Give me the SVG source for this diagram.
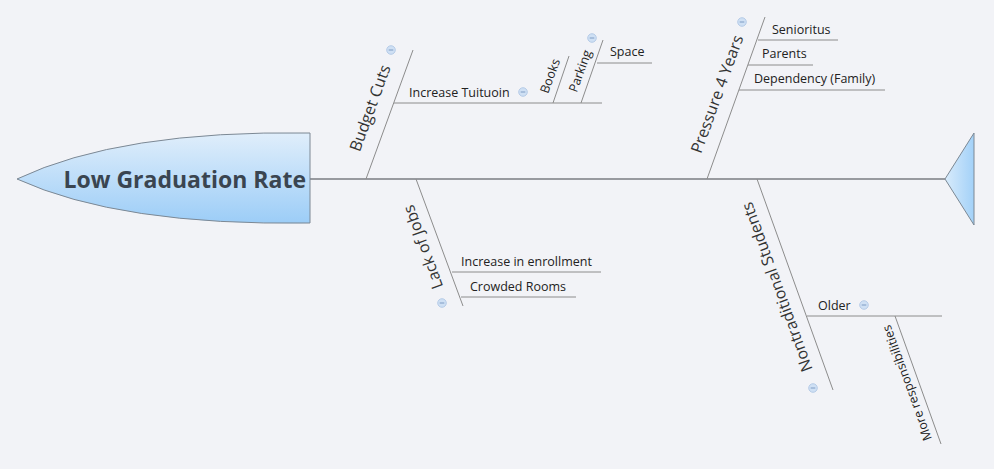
<svg xmlns="http://www.w3.org/2000/svg" width="994" height="469" viewBox="0 0 994 469">
<defs>
<linearGradient id="headGrad" x1="0" y1="0" x2="0" y2="1">
<stop offset="0" stop-color="#e0eefb"/>
<stop offset="1" stop-color="#9ccdf7"/>
</linearGradient>
<linearGradient id="tailGrad" x1="0" y1="0" x2="1" y2="0">
<stop offset="0" stop-color="#d8ebfb"/>
<stop offset="1" stop-color="#a3d1f8"/>
</linearGradient>
<g id="minus">
<circle cx="0" cy="0" r="4.3" fill="#cfe0f4" stroke="#a9c3e2" stroke-width="0.8"/>
<line x1="-2.3" y1="0" x2="2.3" y2="0" stroke="#7e9cc4" stroke-width="1"/>
</g>
</defs>
<style>
.bone{stroke:#8c8c8c;stroke-width:1;fill:none}
.spine{stroke:#7a7d82;stroke-width:1.3;fill:none}
.big{font-family:"Open Sans","Liberation Sans",sans-serif;font-size:16px;fill:#333}
.sm{font-family:"Open Sans","Liberation Sans",sans-serif;font-size:12.5px;fill:#222}
.title{font-family:"Open Sans","Liberation Sans",sans-serif;font-size:23px;font-weight:bold;fill:#3a4550}
</style>
<rect width="994" height="469" fill="#f2f3f7"/>
<g id="connectors">
<line class="spine" x1="310" y1="179" x2="945" y2="179"/>
<line class="bone" x1="366" y1="179" x2="413" y2="50"/>
<line class="bone" x1="394" y1="103" x2="602" y2="103"/>
<line class="bone" x1="553" y1="103" x2="569" y2="56"/>
<line class="bone" x1="581" y1="103" x2="603" y2="40"/>
<line class="bone" x1="597" y1="63" x2="652" y2="63"/>
<line class="bone" x1="707" y1="179" x2="765" y2="17"/>
<line class="bone" x1="758" y1="40" x2="838" y2="40"/>
<line class="bone" x1="748" y1="65" x2="813" y2="65"/>
<line class="bone" x1="739" y1="90" x2="885" y2="90"/>
<line class="bone" x1="416" y1="179" x2="463" y2="306"/>
<line class="bone" x1="452" y1="272" x2="601" y2="272"/>
<line class="bone" x1="461" y1="297" x2="576" y2="297"/>
<line class="bone" x1="757" y1="179" x2="833" y2="390"/>
<line class="bone" x1="807" y1="316" x2="942" y2="316"/>
<line class="bone" x1="895" y1="316" x2="941" y2="444"/>
</g>
<g id="head">
<path d="M17,179 Q120,130 310,133 L310,223 Q120,226 17,179 Z" fill="url(#headGrad)" stroke="#7c8894" stroke-width="1"/>
<text class="title" x="306" y="188" text-anchor="end">Low Graduation Rate</text>
</g>
<g id="tail">
<path d="M945,179 L974,133 L974,225 Z" fill="url(#tailGrad)" stroke="#7c8894" stroke-width="1"/>
</g>
<g id="budget-cuts">
<text class="big" transform="translate(370,108) rotate(-70)" text-anchor="middle" dy="0.35em">Budget Cuts</text>
<use href="#minus" x="391" y="50"/>
</g>
<g id="increase-tuition">
<text class="sm" x="409" y="97">Increase Tuituoin</text>
<use href="#minus" x="523" y="92"/>
</g>
<g id="books">
<text class="sm" transform="translate(550,76) rotate(-70)" text-anchor="middle" dy="0.35em">Books</text>
</g>
<g id="parking">
<text class="sm" transform="translate(580,71) rotate(-70)" text-anchor="middle" dy="0.35em">Parking</text>
<use href="#minus" x="592" y="38"/>
</g>
<g id="space">
<text class="sm" x="610" y="56">Space</text>
</g>
<g id="pressure">
<text class="big" transform="translate(717,94) rotate(-70)" text-anchor="middle" dy="0.35em">Pressure 4 Years</text>
<use href="#minus" x="742" y="22"/>
</g>
<g id="senioritus">
<text class="sm" x="772" y="34">Senioritus</text>
</g>
<g id="parents">
<text class="sm" x="762" y="58">Parents</text>
</g>
<g id="dependency">
<text class="sm" x="754" y="83">Dependency (Family)</text>
</g>
<g id="lack-of-jobs">
<text class="big" transform="translate(423,247) rotate(-110)" text-anchor="middle" dy="0.35em">Lack of Jobs</text>
<use href="#minus" x="442" y="303"/>
</g>
<g id="enrollment">
<text class="sm" x="461" y="266">Increase in enrollment</text>
</g>
<g id="crowded">
<text class="sm" x="470" y="291">Crowded Rooms</text>
</g>
<g id="nontraditional">
<text class="big" transform="translate(777,287) rotate(-110)" text-anchor="middle" dy="0.35em">Nontraditional Students</text>
<use href="#minus" x="813" y="388"/>
</g>
<g id="older">
<text class="sm" x="818" y="310">Older</text>
<use href="#minus" x="864" y="305"/>
</g>
<g id="responsibilities">
<text class="sm" transform="translate(907,383) rotate(-110)" text-anchor="middle" dy="0.35em">More responsibilities</text>
</g>
</svg>
